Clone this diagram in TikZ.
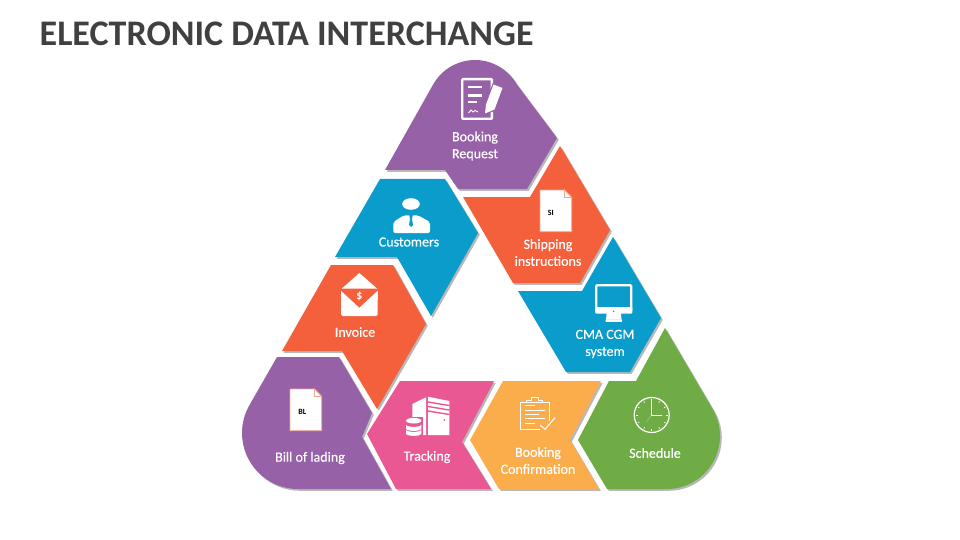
\documentclass[tikz,border=0pt]{standalone}
\usepackage{fontspec}
\setmainfont{Carlito}
\newfontfamily\labelfont[FakeBold=0.35]{Carlito}
\usetikzlibrary{shadows}
\definecolor{purplebox}{HTML}{9761A8}
\definecolor{orangebox}{HTML}{F4603C}
\definecolor{bluebox}{HTML}{0A9DCB}
\definecolor{pinkbox}{HTML}{EA5894}
\definecolor{amberbox}{HTML}{FBAD4C}
\definecolor{greenbox}{HTML}{6FAC46}
\definecolor{titlegrey}{HTML}{404040}
\definecolor{pageline}{HTML}{F4A68F}
\begin{document}
\begin{tikzpicture}[x=1pt,y=-1pt,
	block node/.style={fill=#1,drop shadow={shadow xshift=1.8pt,shadow yshift=-1.8pt,opacity=.28,fill=black}},
	label node/.style={text=white,font=\labelfont\fontsize{14}{17}\selectfont,align=center},
	page node/.style={fill=white,draw=pageline,line width=.7pt},
	icon line/.style={draw=white,line width=#1}]
	\useasboundingbox (0,0) rectangle (960,540);
	\node[anchor=west,inner sep=0pt,text=titlegrey,font=\fontsize{36}{40}\selectfont\bfseries] (title) at (39.5,34) {ELECTRONIC DATA INTERCHANGE};

	% blocks
	\path[block node=purplebox] (385,170) -- (433.4,84) arc[start angle=150,end angle=30,radius=48pt] -- (557,138) -- (527,189) -- (458,189) -- (445,170) -- cycle;
	\path[block node=orangebox] (463,197) -- (530,197) -- (560,146) -- (610,230) -- (580,283) -- (513,283) -- cycle;
	\path[block node=bluebox] (518,291) -- (582,291) -- (613,237) -- (661,318) -- (630,372) -- (566,372) -- cycle;
	\path[block node=greenbox] (609,381) -- (636,381) -- (665,328) -- (712.9,409.5) arc[start angle=30,end angle=-90,radius=53pt] -- (607,489) -- (578,440) -- cycle;
	\path[block node=amberbox] (503,381) -- (601,381) -- (570,440) -- (599,489) -- (499,489) -- (470,440) -- cycle;
	\path[block node=pinkbox] (400,381) -- (494,381) -- (462,442) -- (491,489) -- (396,489) -- (367,434) -- cycle;
	\path[block node=purplebox] (277,357) -- (339,357) -- (372,413) -- (362,437) -- (391,489) -- (298,489) arc[start angle=270,end angle=150,radius=56pt] -- cycle;
	\path[block node=orangebox] (331,265) -- (393,265) -- (426,324) -- (377,409) -- (342,351) -- (282,351) -- cycle;
	\path[block node=bluebox] (380,179) -- (445,179) -- (478,233) -- (431,316) -- (397,257) -- (335,257) -- cycle;

	% labels
	\node[label node] (booking)  at (475,146) {Booking\\Request};
	\node[label node] (customers) at (409,242) {Customers};
	\node[label node] (shipping) at (548,252.5) {Shipping\\instructions};
	\node[label node] (cma)      at (605,344) {CMA CGM\\system};
	\node[label node] (invoice)  at (355,332) {Invoice};
	\node[label node] (lading)   at (310,458) {Bill of lading};
	\node[label node] (tracking) at (427,457) {Tracking};
	\node[label node] (confirm)  at (538,460.5) {Booking\\Confirmation};
	\node[label node] (schedule) at (655,453) {Schedule};

	% booking request icon
	\draw[icon line=2.4pt,rounded corners=.8pt] (462.2,79.2) rectangle (491.8,118.8);
	\foreach \ya/\xb in {87/482,95.5/482,102/477}
		\draw[icon line=2.4pt] (468,\ya) -- (\xb,\ya);
	\draw[icon line=.9pt] (468.5,113) -- (471,110) -- (473,112) -- (475,110.5) -- (478,112);
	\fill[white,preaction={draw=purplebox,line width=2.4pt}] (493.5,84.5) -- (502.5,88) -- (494.5,109.5) -- (485,113.5) -- (486,104.5) -- cycle;

	% customers icon
	\fill[white] (411,204) ellipse[x radius=8.8pt,y radius=5.8pt];
	\fill[white,rounded corners=2pt] (393.3,233) -- (393.3,222) -- (404,215.3) -- (418,215.3) -- (430,222) -- (430,233) -- cycle;
	\fill[bluebox] (409.2,215) -- (412.8,215) -- (412,219) -- (413,225) -- (411,227) -- (409,225) -- (410,219) -- cycle;

	% invoice icon
	\fill[white] (359.3,273) -- (377.3,288.7) -- (341.7,288.7) -- cycle;
	\fill[white,rounded corners=1.5pt] (341,291) -- (341,316) -- (377.5,316) -- (377.5,291);
	\fill[white] (341,290.6) -- (359.3,307.6) -- (377.5,290.6) -- (377.5,300) -- (341,300) -- cycle;
	\fill[orangebox] (341,290.6) -- (377.5,290.6) -- (359.3,307.6) -- cycle;
	\node[text=white,font=\fontsize{12}{12}\selectfont\bfseries] (dollar) at (359.5,296.5) {\$};

	% page icons
	\path[page node] (540,190) -- (564.5,190) -- (571.7,197.5) -- (571.7,231.7) -- (540,231.7) -- cycle;
	\path[page node] (564.5,190) -- (564.5,197.5) -- (571.7,197.5) -- cycle;
	\node[font=\fontsize{8}{8}\selectfont\bfseries] (si) at (550.7,212.7) {SI};
	\path[page node] (290,389) -- (314.5,389) -- (321.7,396.5) -- (321.7,430.7) -- (290,430.7) -- cycle;
	\path[page node] (314.5,389) -- (314.5,396.5) -- (321.7,396.5) -- cycle;
	\node[font=\fontsize{8}{8}\selectfont\bfseries] (bl) at (302.3,412) {BL};

	% monitor icon
	\fill[white] (606.8,312) -- (620.8,312) -- (621.5,319.5) -- (606,319.5) -- cycle;
	\fill[white,rounded corners=.5pt] (605.5,319.4) rectangle (622,321.8);
	\draw[icon line=2.4pt,fill=bluebox,rounded corners=1.2pt] (596.2,285.2) rectangle (631.2,310.5);
	\fill[white,rounded corners=1pt] (595,307) rectangle (632.4,313.5);
	\fill[bluebox] (613.7,311.3) circle[radius=.8pt];

	% tracking icon
	\fill[white] (412.3,404) -- (426,397.3) -- (426,435) -- (412.3,435) -- cycle;
	\fill[white] (428,396.7) -- (449.3,401) -- (449.3,435) -- (428,435) -- cycle;
	\foreach \ya/\yb in {402/405.5,406.5/410,411/414.5}
		\draw[pinkbox,line width=1.4pt] (428,\ya) -- (449.3,\yb);
	\fill[pinkbox] (444.3,420) circle[radius=1pt];
	\fill[pinkbox] (404.5,416.5) rectangle (423,437);
	\foreach \yc in {429.5,424.5}
		\fill[white] (406,\yc) arc[start angle=180,end angle=360,x radius=7.7pt,y radius=2.4pt] -- ++(0,4) arc[start angle=360,end angle=180,x radius=7.7pt,y radius=2.4pt] -- cycle;
	\fill[white] (413.7,420.7) ellipse[x radius=7.7pt,y radius=2.8pt];

	% clipboard icon
	\draw[icon line=1pt] (526.7,402.3) -- (520.3,402.3) -- (520.3,429) -- (540,429);
	\draw[icon line=1pt] (542.7,402.3) -- (549,402.3) -- (549,421);
	\draw[icon line=1pt] (526.7,402.6) -- (526.7,400) -- (531.5,400) -- (531.5,397.5) -- (538,397.5) -- (538,400) -- (542.7,400) -- (542.7,402.6) -- cycle;
	\foreach \ya/\xb/\wd in {405.7/535/.8pt,410/545/.8pt,414/539/.8pt,418.3/545/.8pt,423.3/535/1.4pt}
		\draw[icon line=\wd] (525,\ya) -- (\xb,\ya);
	\draw[icon line=1.1pt] (540,425) -- (545,429.3) -- (555,417.7);

	% clock icon
	\draw[icon line=1.2pt] (651.7,415) circle[radius=17.5pt];
	\foreach \ang in {0,30,...,330}
		\draw[icon line=.6pt] (\ang:14.2pt) ++(651.7,415) -- ++(\ang:1.6pt);
	\draw[icon line=1pt] (651.7,400.5) -- (651.7,415) -- (661.5,415);
	\draw[white,opacity=.35,line width=.5pt] (651.7,415) -- (646,422);
\end{tikzpicture}
\end{document}
